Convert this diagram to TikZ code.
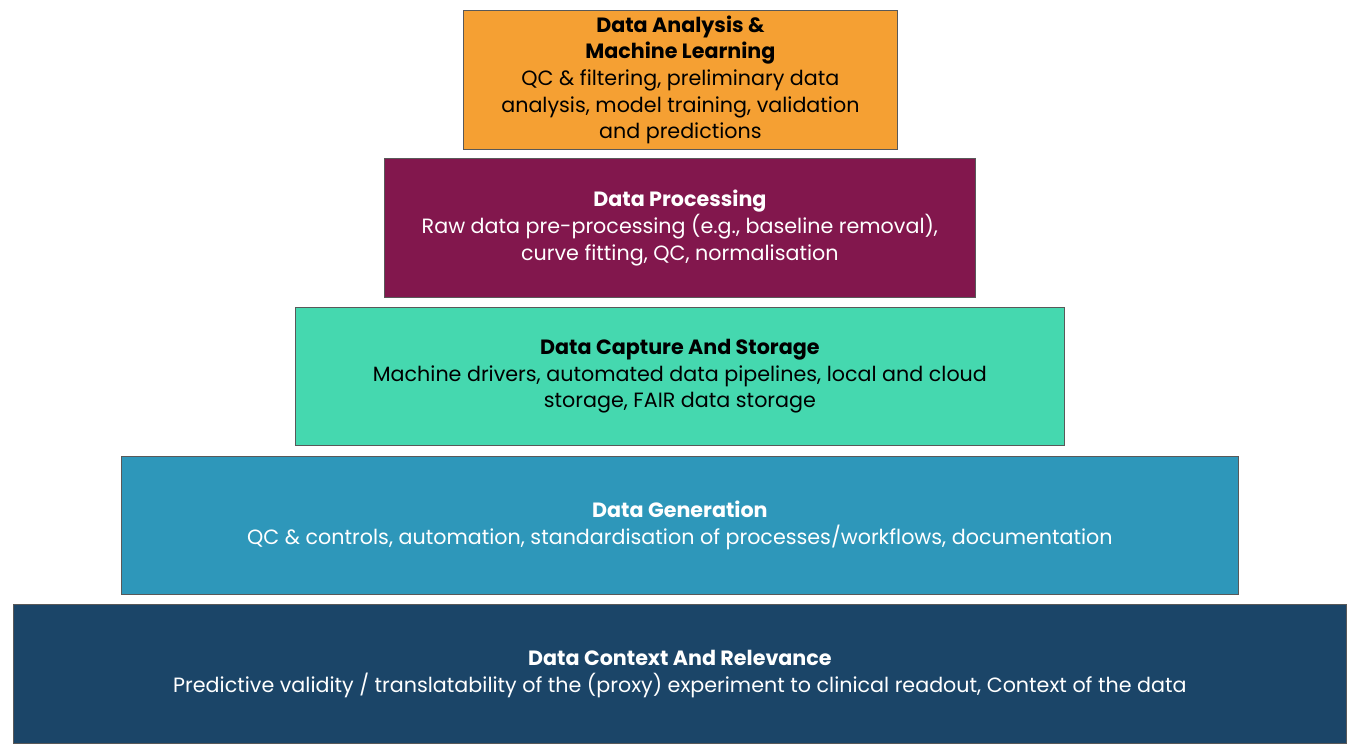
\documentclass[tikz,border=0pt]{standalone}
\usepackage{fontspec}
\setmainfont{Poppins}
\begin{document}
\begin{tikzpicture}[x=0.75pt,y=-0.75pt,
  lay/.style={draw=gray!70!black,line width=0.6pt,anchor=north west,inner sep=0pt,align=center,font=\fontsize{15.5}{20}\selectfont},
  tb/.style={font=\bfseries}]
\useasboundingbox (0,0) rectangle (1358,753);
\definecolor{c1}{HTML}{F5A033}
\definecolor{c2}{HTML}{82174D}
\definecolor{c3}{HTML}{45D8AF}
\definecolor{c4}{HTML}{2E97BA}
\definecolor{c5}{HTML}{1B4568}
\node[lay,fill=c1,text=black,minimum width=434*0.75pt,minimum height=139*0.75pt] (l1) at (463,10)
 {\textbf{Data Analysis \&}\\\textbf{Machine Learning}\\QC \& filtering, preliminary data\\analysis, model training, validation\\and predictions};
\node[lay,fill=c2,text=white,minimum width=591*0.75pt,minimum height=139*0.75pt] (l2) at (384,158)
 {\textbf{Data Processing}\\Raw data pre-processing (e.g., baseline removal),\\curve fitting, QC, normalisation};
\node[lay,fill=c3,text=black,minimum width=769*0.75pt,minimum height=138*0.75pt] (l3) at (295,307)
 {\textbf{Data Capture And Storage}\\Machine drivers, automated data pipelines, local and cloud\\storage, FAIR data storage};
\node[lay,fill=c4,text=white,minimum width=1117*0.75pt,minimum height=138*0.75pt] (l4) at (121,456)
 {\textbf{Data Generation}\\QC \& controls, automation, standardisation of processes/workflows, documentation};
\node[lay,fill=c5,text=white,minimum width=1333*0.75pt,minimum height=139*0.75pt] (l5) at (13,604)
 {\textbf{Data Context And Relevance}\\Predictive validity / translatability of the (proxy) experiment to clinical readout, Context of the data};
\end{tikzpicture}
\end{document}
